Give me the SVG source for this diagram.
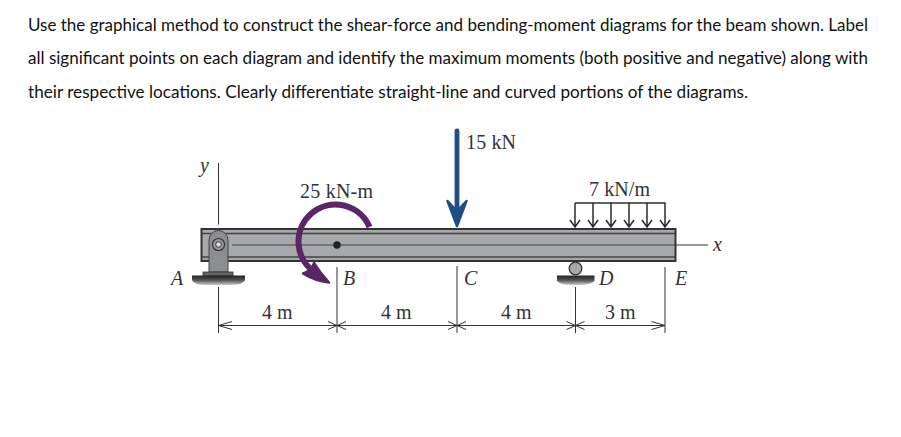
<svg xmlns="http://www.w3.org/2000/svg" width="901" height="437" viewBox="0 0 901 437">
<style>
.q{font:16.600px Lato,"Open Sans",sans-serif;fill:#111}
.t{font:20px "Liberation Serif",serif;fill:#333}
.i{font:italic 20px "Liberation Serif",serif;fill:#333}
.l{stroke:#333;stroke-width:1;fill:none}
.e{stroke:#2b2b2b;stroke-width:1.500;fill:none}
</style>
<defs>
<linearGradient id="g" x1="0" y1="0" x2="0" y2="1"><stop offset="0" stop-color="#222"/><stop offset="0.5" stop-color="#555"/><stop offset="1" stop-color="#ccc"/></linearGradient>
<path id="da" d="M0,-25V-1M-5,-8L0,-1L5,-8" class="e"/>
<path id="tk" d="M-9,-4L9,4M-9,4L9,-4" class="l"/>
</defs>
<rect width="901" height="437" fill="#fff"/>
<g id="question">
<text class="q" x="28" y="31" textLength="840" lengthAdjust="spacingAndGlyphs">Use the graphical method to construct the shear-force and bending-moment diagrams for the beam shown. Label</text>
<text class="q" x="28" y="64" textLength="840" lengthAdjust="spacingAndGlyphs">all significant points on each diagram and identify the maximum moments (both positive and negative) along with</text>
<text class="q" x="28" y="98" textLength="720" lengthAdjust="spacingAndGlyphs">their respective locations. Clearly differentiate straight-line and curved portions of the diagrams.</text>
</g>
<g id="beam">
<rect x="201.500" y="229" width="474" height="32" fill="#a6a8ab" stroke="#333" stroke-width="2"/>
<path d="M202,233.500H675M202,257H675" stroke="#444" stroke-width="1.300" fill="none"/>
<path d="M232,245H675" stroke="#444" stroke-width="1.200" fill="none"/>
<circle cx="337" cy="245" r="3.700" fill="#222"/>
</g>
<g id="support-A">
<path d="M209,272V240a9.500,9.500 0 0 1 19,0V272Z" fill="#8b8d90" stroke="#444" stroke-width="1"/>
<circle cx="218.500" cy="244.500" r="6" fill="#999" stroke="#333" stroke-width="1.200"/>
<circle cx="218.500" cy="244.500" r="2.800" fill="#ddd" stroke="#333" stroke-width="1"/>
<rect x="203" y="272" width="30" height="4" fill="#666" stroke="#333" stroke-width="0.800"/>
<path d="M192,275.500H245V280Q243,285 232,285H205Q194,285 192,280Z" fill="url(#g)"/>
</g>
<g id="support-D">
<circle cx="575.500" cy="268.500" r="6.300" fill="#a6a8ab" stroke="#333" stroke-width="1.300"/>
<path d="M557,275.500H594.500V281Q590,285 580,285H571Q561,285 557,281Z" fill="url(#g)"/>
</g>
<g id="connectors">
<path class="l" d="M218.500,163V224.500M218.500,287V333"/>
<path class="l" d="M337,267V333M457,266V333M575.500,287V333M665,267V333"/>
<path class="l" d="M218.500,325.500H665"/>
<path class="l" d="M218.500,325.500L232,321.500M218.500,325.500L232,329.500M665,325.500L651.500,321.500M665,325.500L651.500,329.500"/>
<use href="#tk" x="337" y="325.500"/><use href="#tk" x="457" y="325.500"/><use href="#tk" x="575.500" y="325.500"/>
<path class="l" d="M676,245H708"/>
<path d="M457,131V222" stroke="#1d4f86" stroke-width="4.800" stroke-linecap="round" fill="none"/>
<path d="M447.500,201L457,226L466.500,201L457,211Z" fill="#1d4f86" stroke="#1d4f86" stroke-width="2.500" stroke-linejoin="round"/>
<path d="M575,203H665.500" class="e"/>
<use href="#da" x="575" y="228"/><use href="#da" x="593" y="228"/><use href="#da" x="611" y="228"/><use href="#da" x="629" y="228"/><use href="#da" x="647" y="228"/><use href="#da" x="665" y="228"/>
<path d="M369.500,227A37,37 0 1 0 316,273" stroke="#5b2566" stroke-width="6" fill="none"/>
<path d="M303,273.500Q315,281 329,282.500Q320,273 314,263Q312,270 303,273.500Z" fill="#5b2566" stroke="#5b2566" stroke-width="2.500" stroke-linejoin="round"/>
</g>
<g id="labels">
<text class="i" x="200" y="172">y</text>
<text class="t" x="300" y="198" textLength="73">25 kN-m</text>
<text class="t" x="466" y="149" textLength="50">15 kN</text>
<text class="t" x="589" y="196" textLength="61">7 kN/m</text>
<text class="i" x="171" y="285">A</text><text class="i" x="343" y="285">B</text><text class="i" x="464" y="285">C</text><text class="i" x="599" y="285">D</text><text class="i" x="675" y="285">E</text><text class="i" x="713" y="251">x</text>
<text class="t" x="262" y="319">4 m</text><text class="t" x="381" y="319">4 m</text><text class="t" x="501" y="319">4 m</text><text class="t" x="605" y="319">3 m</text>
</g>
</svg>
